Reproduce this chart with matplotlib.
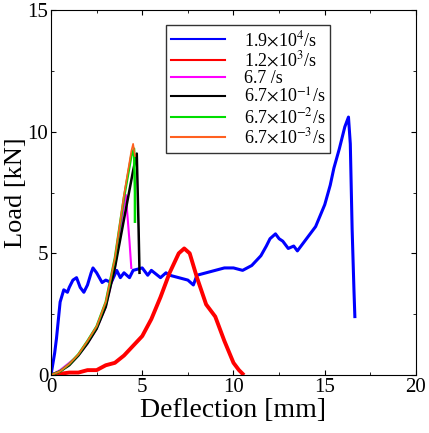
import matplotlib
matplotlib.use("Agg")
import matplotlib.pyplot as plt

plt.rcParams['font.family'] = ['Liberation Serif', 'DejaVu Serif']
plt.rcParams['mathtext.fontset'] = 'stix'

blue_x = [0,0.2,0.3,0.5,0.7,0.9,1,1.2,1.4,1.6,1.8,2,2.2,2.3,2.5,2.8,3,3.3,3.6,3.8,4,4.3,4.5,5,5.3,5.5,6,6.3,6.5,7,7.5,7.8,8,8.5,9,9.5,10,10.5,11,11.5,11.8,12,12.3,12.5,12.7,13,13.3,13.5,14,14.5,15,15.3,15.5,15.8,16.1,16.3,16.4,16.5,16.6,16.65]
blue_y = [0,0.9,1.5,3.0,3.5,3.4,3.6,3.9,4.0,3.6,3.4,3.7,4.2,4.4,4.2,3.8,3.9,3.8,4.3,4.0,4.2,4.0,4.3,4.4,4.1,4.3,4.0,4.2,4.1,4.0,3.9,3.7,4.1,4.2,4.3,4.4,4.4,4.3,4.5,4.9,5.3,5.6,5.8,5.6,5.5,5.2,5.3,5.1,5.6,6.1,7.0,7.8,8.5,9.3,10.2,10.6,9.5,6.0,3.5,2.4]
red_x = [0,0.5,1,1.5,2,2.5,3,3.5,4,4.5,5,5.5,6,6.5,7,7.3,7.6,8,8.5,9,9.5,10,10.3,10.5]
red_y = [0,0.05,0.1,0.1,0.2,0.2,0.4,0.5,0.8,1.2,1.6,2.3,3.2,4.2,5.0,5.2,5.0,4.0,2.9,2.4,1.4,0.5,0.2,0.05]
mag_x = [0,0.5,1,1.5,2,2.5,3,3.5,3.8,4.1,4.3,4.4]
mag_y = [0,0.2,0.5,0.8,1.3,1.9,2.8,4.4,6.0,7.4,5.5,4.4]
blk_x = [0,0.5,1,1.5,2,2.5,3,3.5,4,4.5,4.7,4.8,4.85]
blk_y = [0,0.15,0.4,0.8,1.3,1.9,2.8,4.4,6.4,8.4,9.1,6.0,4.2]
grn_x = [0,0.5,1,1.5,2,2.5,3,3.5,4,4.4,4.55,4.6,4.6]
grn_y = [0,0.15,0.45,0.85,1.4,2.0,3.0,4.8,7.3,9.0,9.3,7.5,6.3]
org_x = [0,0.5,1,1.5,2,2.5,3,3.5,4,4.4,4.5,4.6]
org_y = [0,0.15,0.45,0.85,1.4,2.0,3.0,4.8,7.4,9.2,9.5,9.0]

labels = [r'1.9$\times$10$^{4}$/s', r'1.2$\times$10$^{3}$/s', r'6.7 /s',
          r'6.7$\times$10$^{-1}$/s', r'6.7$\times$10$^{-2}$/s', r'6.7$\times$10$^{-3}$/s']

fig = plt.figure(figsize=(4.29, 4.33), dpi=100)
ax = fig.add_axes([51/429, 1-375/433, 365/429, 365/433])
ax.plot(blue_x, blue_y, color='#0000ff', lw=2.2, label=labels[0])
ax.plot(red_x, red_y, color='#ff0000', lw=2.8, label=labels[1])
ax.plot(mag_x, mag_y, color='#ff00ff', lw=1.5, label=labels[2])
ax.plot(blk_x, blk_y, color='black', lw=1.8, label=labels[3])
ax.plot(grn_x, grn_y, color='#00dd00', lw=1.8, label=labels[4])
ax.plot(org_x, org_y, color='#ff6020', lw=1.2, label=labels[5])
leg = ax.legend(loc='upper left', bbox_to_anchor=(0.29, 0.985), fontsize=13,
                frameon=True, fancybox=False, edgecolor='black', handlelength=3.0,
                labelspacing=0.02, borderpad=0.3, handletextpad=1.0)
for h in leg.get_lines():
    h.set_linewidth(1.5)
ax.set_xlim(0, 20)
ax.set_ylim(0, 15)
ax.set_xticks([0, 5, 10, 15, 20])
ax.set_yticks([0, 5, 10, 15])
ax.set_xticks([2.5, 7.5, 12.5, 17.5], minor=True)
ax.set_yticks([2.5, 7.5, 12.5], minor=True)
ax.tick_params(which='both', direction='in', top=True, right=True, labelsize=15, pad=2)
ax.set_xlabel('Deflection [mm]', fontsize=20, labelpad=1)
ax.set_ylabel('Load [kN]', fontsize=19, labelpad=0)
fig.savefig('out.png', dpi=100)
